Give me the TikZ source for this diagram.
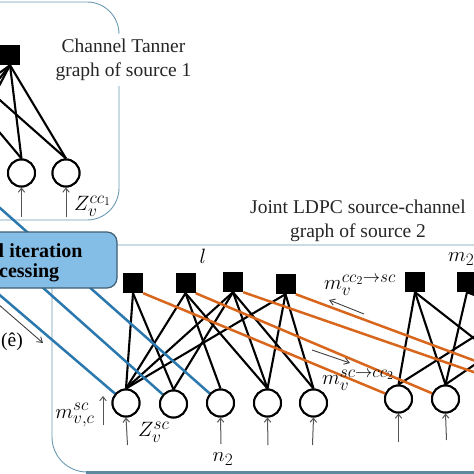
\documentclass[tikz,border=0pt]{standalone}
\usepackage{fontspec}
\setmainfont{Liberation Serif}
\usetikzlibrary{arrows.meta}
\DeclareMathSizes{22}{22}{16.5}{13}
\definecolor{boxline}{HTML}{6B9AB3}
\definecolor{boxshadow}{HTML}{5D8AA0}
\definecolor{procfill}{HTML}{84BDE6}
\definecolor{procline}{HTML}{3E5F74}
\definecolor{bluedge}{HTML}{2A78AE}
\definecolor{orangeedge}{HTML}{D8661C}
\definecolor{arrowgray}{HTML}{555555}
\begin{document}
\begin{tikzpicture}[x=1pt,y=-1pt,
  chk/.style={fill=black,minimum size=20pt,inner sep=0pt,draw=none,rectangle},
  var/.style={circle,draw=black,line width=2pt,fill=white,minimum size=27pt,inner sep=0pt},
  edge/.style={line width=2.1pt,black},
  bedge/.style={line width=2.5pt,bluedge},
  oedge/.style={line width=2.5pt,orangeedge},
  inarrow/.style={arrowgray,line width=1pt,-{Straight Barb[length=4pt,width=6.5pt]}},
  msgarrow/.style={black!75,line width=0.9pt,-{Straight Barb[length=5pt,width=6.5pt]}},
  lbl/.style={font=\fontsize{22}{26}\selectfont,inner sep=0pt},
  title/.style={font=\fontsize{19.5}{24}\selectfont,align=center,text=black!85}
]
\useasboundingbox (0,0) rectangle (474,474);
\begin{scope}
\clip (0,0) rectangle (474,474);
% boxes
\draw[boxline,line width=0.9pt,rounded corners=32pt] (-200,2) rectangle (119,220);
\draw[boxline,line width=0.9pt,rounded corners=35pt] (52,245) rectangle (640,472);
\draw[boxshadow,line width=2.6pt] (86,472.5) -- (480,472.5);

% top-left graph nodes
\node[chk] (S0) at (10,55) {};
\node[var] (T1) at (21.5,173) {};
\node[var] (T2) at (66,173) {};
\coordinate (oa) at (-50,56);
\coordinate (ob) at (-57,65);
\coordinate (oc) at (-120,160);
\coordinate (od) at (-65,160);
\coordinate (oe) at (-40,160);

% bottom graph nodes
\node[chk] (S1) at (133,283) {};
\node[chk] (S2) at (185.5,283) {};
\node[chk] (S3) at (233,282) {};
\node[chk] (S4) at (285.5,284) {};
\node[chk] (S6) at (415,282) {};
\node[chk] (S7) at (467,282) {};
\node[var] (C1) at (126,403) {};
\node[var] (C2) at (173.5,404) {};
\node[var] (C3) at (220.5,403) {};
\node[var] (C4) at (267.5,403) {};
\node[var] (C5) at (313.5,403) {};
\node[var] (C6) at (398.5,399) {};
\node[var] (C7) at (445.5,399) {};

% off-picture ends
\coordinate (r1) at (540,395);
\coordinate (r2) at (540,385);
\coordinate (r3) at (540,320);
\coordinate (r4) at (540,300);
\coordinate (r5) at (540,295);
\coordinate (r6) at (540,320);
\coordinate (r7) at (540,390);
\coordinate (b1) at (-60,155);
\coordinate (b2) at (-60,196);
\coordinate (b3) at (-60,244);

% black edges, top graph
\draw[edge] (S0.south) -- (T1.north);
\draw[edge] (S0.south) -- (T2.north);
\draw[edge] (S0.south) -- (oc);
\draw[edge] (S0.south) -- (od);
\draw[edge] (S0.south) -- (oe);
\draw[edge] (oa) -- (T2.north);
\draw[edge] (ob) -- (T1.north);

% black edges, bottom graph
\draw[edge] (S1.south) -- (C1.north);
\draw[edge] (S1.south) -- (C2.north);
\draw[edge] (S2.south) -- (C1.north);
\draw[edge] (S2.south) -- (C3.north);
\draw[edge] (S2.south) -- (C4.north);
\draw[edge] (S3.south) -- (C1.north);
\draw[edge] (S3.south) -- (C2.north);
\draw[edge] (S3.south) -- (C4.north);
\draw[edge] (S3.south) -- (C5.north);
\draw[edge] (S4.south) -- (C1.north);
\draw[edge] (S4.south) -- (C4.north);
\draw[edge] (S4.south) -- (C5.north);
\draw[edge] (S6.south) -- (C6.north);
\draw[edge] (S6.south) -- (C7.north);
\draw[edge] (S6.south) -- (r7);
\draw[edge] (S7.south) -- (C7.north);
\draw[edge] (S7.south) -- (r6);
\draw[edge] (S7.south) -- (r4);
\draw[edge] (r5) -- (C6.north);
\draw[edge] (r3) -- (C7.north);

% blue edges
\draw[bedge] (b1) -- (C3);
\draw[bedge] (b2) -- (C2);
\draw[bedge] (b3) -- (C1);

% orange edges
\draw[oedge] (S1.south east) -- (C6);
\draw[oedge] (S2.south east) -- (C7);
\draw[oedge] (S3.south east) -- (r1);
\draw[oedge] (S4.south east) -- (r2);

% redraw nodes on top
\node[chk] at (S0) {};
\foreach \n in {S1,S2,S3,S4,S6,S7} {\node[chk] at (\n) {};}
\foreach \n in {T1,T2,C1,C2,C3,C4,C5,C6,C7} {\node[var] at (\n) {};}

% input arrows
\coordinate (t1in) at (21.5,217);
\coordinate (t2in) at (66,217);
\draw[inarrow] (t1in) -- (T1.south);
\draw[inarrow] (t2in) -- (T2.south);
\coordinate (c1in) at (127.5,445);
\coordinate (c3in) at (221,444);
\coordinate (c4in) at (268,445);
\coordinate (c5in) at (312.5,445);
\coordinate (c6in) at (398.5,442);
\coordinate (c7in) at (446.5,440);
\draw[inarrow] (c1in) -- (C1.south);
\draw[inarrow] (c3in) -- (C3.south);
\draw[inarrow] (c4in) -- (C4.south);
\draw[inarrow] (c5in) -- (C5.south);
\draw[inarrow] (c6in) -- (C6.south);
\draw[inarrow] (c7in) -- (C7.south);

% processing box
\node[draw=procline,line width=1.2pt,fill=procfill,rounded corners=10pt,minimum width=180pt,minimum height=56pt] (proc) at (27,260) {};
\node[anchor=base west,inner sep=0pt,font=\fontsize{20}{23}\bfseries] (proct1) at (-1.5,257) {l iteration};
\node[anchor=base west,inner sep=0pt,font=\fontsize{20}{23}\bfseries] (proct2) at (-1,277) {cessing};

% (e hat) and its arrow
\node[anchor=base west,inner sep=0pt,font=\fontsize{19.5}{22}\selectfont] (ehat) at (1,346) {(ê)};
\coordinate (ea) at (-2,304);
\coordinate (eb) at (43,343);
\draw[msgarrow] (ea) -- (eb);

% titles
\node[title,fill=white,inner sep=5pt] (title1) at (123.5,60) {Channel Tanner\\graph of source 1};
\node[title,inner sep=0pt] (title2) at (358,221) {Joint LDPC source-channel\\graph of source 2};

% labels
\node[lbl,anchor=west] (zcc) at (74,206) {$Z_v^{cc_1}$};
\node[lbl] (mvc) at (75,415) {$m_{v,c}^{sc}$};
\coordinate (mva) at (103,425);
\coordinate (mvb) at (103,396);
\draw[inarrow] (mva) -- (mvb);
\node[lbl,anchor=west] (zsc) at (138,432) {$Z_v^{sc}$};
\node[lbl] (n2) at (223,459) {$n_2$};
\node[lbl] (ll) at (203,256) {$l$};
\node[lbl,anchor=west] (m2) at (448,259) {$m_2$};
\node[lbl,anchor=west] (mcs) at (324,285) {$m_v^{cc_2\to sc}$};
\coordinate (mcsa) at (364,314);
\coordinate (mcsb) at (329,300);
\draw[msgarrow] (mcsa) -- (mcsb);
\node[lbl,anchor=west] (msc) at (322,380) {$m_v^{sc\to cc_2}$};
\coordinate (msca) at (312,350);
\coordinate (mscb) at (350,363);
\draw[msgarrow] (msca) -- (mscb);
\end{scope}
\end{tikzpicture}
\end{document}
